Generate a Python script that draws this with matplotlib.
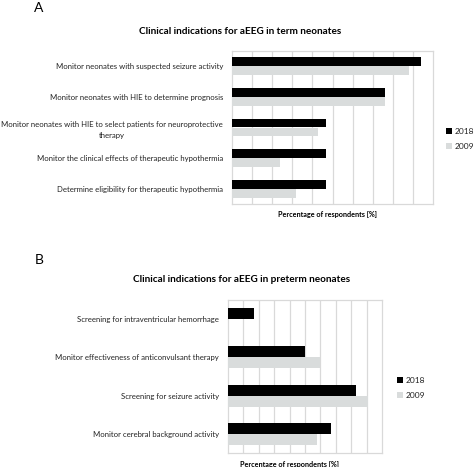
import numpy as np
import matplotlib
matplotlib.use('Agg')
import matplotlib.pyplot as plt

plt.rcParams['font.family'] = ['Lato', 'DejaVu Sans']

# Panel A: term neonates (top to bottom)
term_labels = ['Monitor neonates with suspected seizure activity',
               'Monitor neonates with HIE to determine prognosis',
               'Monitor neonates with HIE to select patients for neuroprotective\ntherapy',
               'Monitor the clinical effects of therapeutic hypothermia',
               'Determine eligibility for therapeutic hypothermia']
term_2018 = [94, 76, 47, 47, 47]
term_2009 = [88, 76, 43, 24, 32]

# Panel B: preterm neonates (top to bottom)
preterm_labels = ['Screening for intraventricular hemorrhage',
                  'Monitor effectiveness of anticonvulsant therapy',
                  'Screening for seizure activity',
                  'Monitor cerebral background activity']
preterm_2018 = [17, 50, 83, 67]
preterm_2009 = [0, 60, 91, 58]

years = ['2018', '2009']
colors = ['#000000', '#d9dcdc']
grid_color = '#d9d9d9'

W, H = 474, 467
fig = plt.figure(figsize=(W / 100, H / 100), dpi=100)


def px_axes(left, top, right, bottom):
    return fig.add_axes([left / W, 1 - bottom / H, (right - left) / W, (bottom - top) / H])


def draw_panel(ax, labels, v2018, v2009, legend_xy):
    y = np.arange(len(labels))
    h = 0.29
    ax.barh(y - h / 2, v2018, height=h, color=colors[0], label=years[0], zorder=3)
    ax.barh(y + h / 2, v2009, height=h, color=colors[1], label=years[1], zorder=3)
    ax.set_xlim(0, 100)
    ax.set_ylim(len(labels) - 0.5, -0.5)
    ax.set_xticks(np.arange(10, 100, 10))
    ax.xaxis.grid(True, color=grid_color, linewidth=0.9, zorder=0)
    ax.tick_params(axis='x', length=0, labelbottom=False)
    ax.tick_params(axis='y', length=0, pad=6.5)
    ax.set_yticks(y)
    ax.set_yticklabels(labels, fontsize=5.6, color='#222222', ha='right',
                       multialignment='center', linespacing=1.6)
    for spine in ax.spines.values():
        spine.set_color(grid_color)
        spine.set_linewidth(0.9)
    ax.legend(loc='center left', bbox_to_anchor=legend_xy,
              bbox_transform=fig.transFigure, frameon=False, fontsize=6,
              handlelength=0.7, handleheight=0.7, handletextpad=0.3,
              labelspacing=0.9, borderaxespad=0, borderpad=0,
              labelcolor='#222222')


# Panel A
axA = px_axes(232, 51, 433, 204)
draw_panel(axA, term_labels, term_2018, term_2009, (446 / W, 1 - 139 / H))
fig.text(39 / W, 1 - 8 / H, 'A', fontsize=10, ha='center', va='center')
fig.text(240 / W, 1 - 31 / H, 'Clinical indications for aEEG in term neonates',
         fontsize=7.2, fontweight='bold', ha='center', va='center')
fig.text(328 / W, 1 - 214 / H, 'Percentage of respondents [%]',
         fontsize=5.2, fontweight='bold', ha='center', va='center')

# Panel B
axB = px_axes(228, 300, 382, 453)
draw_panel(axB, preterm_labels, preterm_2018, preterm_2009, (397 / W, 1 - 388 / H))
fig.text(39 / W, 1 - 260 / H, 'B', fontsize=10, ha='center', va='center')
fig.text(242 / W, 1 - 280 / H, 'Clinical indications for aEEG in preterm neonates',
         fontsize=7.2, fontweight='bold', ha='center', va='center')
fig.text(290 / W, 1 - 464 / H, 'Percentage of respondents [%]',
         fontsize=5.2, fontweight='bold', ha='center', va='center')

fig.savefig('out.png', dpi=100)
